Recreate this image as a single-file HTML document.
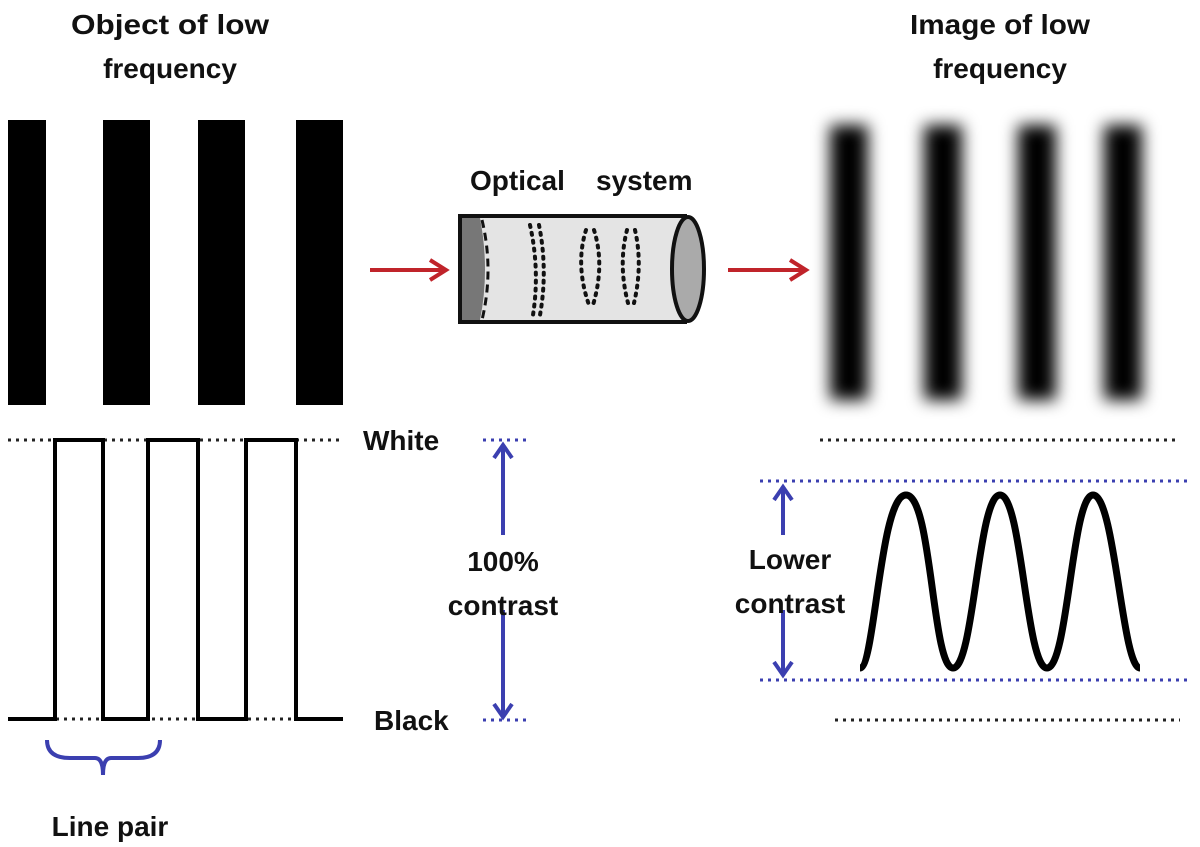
<!DOCTYPE html>
<html><head><style>
body{margin:0;background:#fff}
svg{display:block}
text{font-family:"Liberation Sans",sans-serif;font-weight:bold;font-size:28px;fill:#111}
</style></head><body>
<svg width="1200" height="847" viewBox="0 0 1200 847">
<defs>
<filter id="bl" x="-60%" y="-20%" width="220%" height="140%"><feGaussianBlur stdDeviation="8"/></filter>
</defs>
<text x="170" y="34" text-anchor="middle" textLength="198" lengthAdjust="spacingAndGlyphs">Object of low</text>
<text x="170" y="78" text-anchor="middle">frequency</text>
<text x="1000" y="34" text-anchor="middle" textLength="180" lengthAdjust="spacingAndGlyphs">Image of low</text>
<text x="1000" y="78" text-anchor="middle">frequency</text>
<g fill="#000">
<rect x="8" y="120" width="38" height="285"/><rect x="103" y="120" width="47" height="285"/>
<rect x="198" y="120" width="47" height="285"/><rect x="296" y="120" width="47" height="285"/>
</g>
<g fill="#000" filter="url(#bl)">
<rect x="830" y="125" width="38" height="275"/><rect x="924" y="125" width="38" height="275"/>
<rect x="1018" y="125" width="38" height="275"/><rect x="1104" y="125" width="38" height="275"/>
</g>
<text x="470" y="190">Optical</text><text x="596" y="190">system</text>
<g stroke="#c0242a" stroke-width="4" fill="none">
<line x1="370" y1="270" x2="444" y2="270"/><path d="M430,260 L446,270 L430,280"/>
<line x1="728" y1="270" x2="804" y2="270"/><path d="M790,260 L806,270 L790,280"/>
</g>
<rect x="460" y="216" width="225" height="106" fill="#e4e4e4" stroke="#111" stroke-width="4"/>
<path d="M462,218 L480,218 Q490,270 480,320 L462,320 Z" fill="#777"/>
<path d="M482,220 Q494,270 482,320" fill="none" stroke="#111" stroke-width="3" stroke-dasharray="8,5"/>
<ellipse cx="688" cy="269" rx="16" ry="52" fill="#aaa" stroke="#111" stroke-width="4"/>
<g fill="none" stroke="#111" stroke-width="4" stroke-dasharray="2,6" stroke-linecap="round">
<path d="M530,225 Q540,270 533,315"/><path d="M539,225 Q548,270 540,315"/>
<path d="M586,230 Q575,265 589,305"/><path d="M594,230 Q605,265 593,305"/>
<path d="M627,230 Q618,265 628,303"/><path d="M635,230 Q643,265 634,303"/>
</g>
<g stroke="#222" stroke-width="3" stroke-dasharray="3,5">
<line x1="8" y1="440" x2="343" y2="440"/><line x1="8" y1="719" x2="343" y2="719"/>
<line x1="820" y1="440" x2="1180" y2="440"/><line x1="835" y1="720" x2="1180" y2="720"/>
</g>
<path d="M8,719 H55 V440 H103 V719 H148 V440 H198 V719 H246 V440 H296 V719 H343" fill="none" stroke="#000" stroke-width="4"/>
<text x="363" y="450">White</text><text x="374" y="730">Black</text>
<g stroke="#3b3fb0" stroke-width="3" stroke-dasharray="3,5">
<line x1="483" y1="440" x2="530" y2="440"/><line x1="483" y1="720" x2="530" y2="720"/>
<line x1="760" y1="481" x2="1190" y2="481"/><line x1="760" y1="680" x2="1190" y2="680"/>
</g>
<g stroke="#3b3fb0" stroke-width="4" fill="none">
<line x1="503" y1="446" x2="503" y2="535"/><path d="M494,458 L503,445 L512,458"/>
<line x1="503" y1="610" x2="503" y2="716"/><path d="M494,704 L503,717 L512,704"/>
<line x1="783" y1="488" x2="783" y2="535"/><path d="M774,500 L783,487 L792,500"/>
<line x1="783" y1="610" x2="783" y2="674"/><path d="M774,662 L783,675 L792,662"/>
<path d="M47,740 Q47,758 70,758 L95,758 Q103,758 103,775 Q103,758 111,758 L138,758 Q160,758 160,740"/>
</g>
<text x="503" y="571" text-anchor="middle">100%</text>
<text x="503" y="615" text-anchor="middle">contrast</text>
<text x="790" y="569" text-anchor="middle">Lower</text>
<text x="790" y="613" text-anchor="middle">contrast</text>
<text x="110" y="836" text-anchor="middle">Line pair</text>
<path d="M860,668 C875,668 880,495 906,495 C932,495 932,668 953,668 C974,668 978,495 1000,495 C1022,495 1026,668 1047,668 C1068,668 1072,495 1093,495 C1115,495 1122,668 1140,668" fill="none" stroke="#000" stroke-width="7"/>
</svg>
</body></html>
